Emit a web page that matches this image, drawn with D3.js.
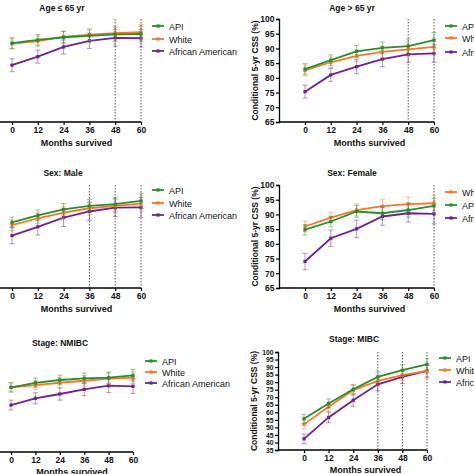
<!DOCTYPE html>
<html><head><meta charset="utf-8">
<script src="https://cdn.jsdelivr.net/npm/d3@7"></script>
<style>body{margin:0;background:#fff}text{font-family:"Liberation Sans",Arial,sans-serif;font-weight:bold}</style>
</head><body><svg id="c" width="474" height="474"></svg>
<script>
const months = [0, 12, 24, 36, 48, 60];
const seriesNames = ["API", "White", "African American"];
const colors = {"API": "#2f8a2f", "White": "#f07a2a", "African American": "#6b2391"};

const titles = ["Age \u2264 65 yr", "Age > 65 yr", "Sex: Male", "Sex: Female", "Stage: NMIBC", "Stage: MIBC"];

const ageLe65 = {API: [91.8, 92.9, 93.8, 94.3, 94.8, 94.9], White: [91.6, 92.5, 93.9, 94.7, 95.2, 95.5], "African American": [84.3, 87.2, 90.5, 92.6, 93.6, 93.5]};
const ageGt65 = {API: [83.0, 86.0, 89.0, 90.2, 90.8, 92.8], White: [82.5, 85.3, 87.5, 88.8, 89.7, 90.5], "African American": [75.3, 81.0, 83.8, 86.4, 88.0, 88.3]};
const sexMale = {API: [87.3, 89.7, 91.7, 92.9, 93.5, 94.6], White: [86.4, 88.7, 90.6, 92.1, 92.9, 93.7], "African American": [82.8, 85.8, 88.9, 91.0, 92.3, 92.4]};
const sexFemale = {API: [84.8, 87.6, 91.0, 90.4, 91.5, 92.9], White: [85.9, 88.9, 91.5, 92.8, 93.5, 93.8], "African American": [74.0, 81.9, 85.1, 89.3, 90.4, 90.2]};
const stageNMIBC = {API: [77.0, 80.0, 81.8, 82.9, 83.3, 84.8], White: [77.0, 78.5, 80.0, 81.3, 82.7, 83.3], "African American": [65.5, 69.9, 72.7, 75.7, 78.1, 77.7]};
const stageMIBC = {API: [55.7, 65.9, 75.3, 83.5, 87.9, 91.8], White: [52.0, 63.7, 74.7, 80.8, 84.6, 87.4], "African American": [42.4, 56.6, 68.0, 78.6, 83.5, 87.4]};

const errAge = [1.8, 1.8, 2.0, 2.0, 2.4, 2.6];
const errAgeAA = [2.2, 2.2, 2.4, 2.6, 2.8, 3.0];
const errSex = [1.8, 1.8, 2.0, 2.2, 2.4, 2.6];
const errSexAA = [2.8, 2.8, 3.0, 3.0, 3.0, 3.4];
const errStage = [3.0, 3.0, 3.2, 3.4, 3.6, 3.8];
const errStageAA = [3.2, 3.6, 4.0, 4.2, 4.4, 4.6];

const yTicksA = [65, 70, 75, 80, 85, 90, 95, 100];
const yTicksB = [35, 40, 45, 50, 55, 60, 65, 70, 75, 80, 85, 90, 95, 100];

const panels = [
  {title: titles[0], data: ageLe65, err: errAge, errAA: errAgeAA, x0: 12, x1: 141, yT: 19, yB: 122, dom: [65,100], ticks: yTicksA, showY: false, dotted: [48,60], legX: 152, legY: [26,39,51], legTxt: seriesNames, tx: 62, ty: 7, xl: 143, fs: 8.5},
  {title: titles[1], data: ageGt65, err: errAge, errAA: errAgeAA, x0: 305, x1: 434, yT: 19, yB: 122, dom: [65,100], ticks: yTicksA, showY: true, yAxisX: 279, dotted: [48,60], legX: 445, legY: [26,38,52], legTxt: seriesNames, tx: 352, ty: 7, xl: 143, fs: 8.5},
  {title: titles[2], data: sexMale, err: errSex, errAA: errSexAA, x0: 12, x1: 141, yT: 185, yB: 288, dom: [65,100], ticks: yTicksA, showY: false, dotted: [36,48,60], legX: 152, legY: [190,203,215], legTxt: seriesNames, tx: 63, ty: 172, xl: 309, fs: 8.5},
  {title: titles[3], data: sexFemale, err: errSex, errAA: errSexAA, x0: 305, x1: 434, yT: 185, yB: 288, dom: [65,100], ticks: yTicksA, showY: true, yAxisX: 279, dotted: [60], legX: 445, legY: [192,205,218], legTxt: ["White","API","African American"], tx: 352, ty: 172, xl: 309, fs: 8.5},
  {title: titles[4], data: stageNMIBC, err: errStage, errAA: errStageAA, x0: 11, x1: 133, yT: 352, yB: 452, dom: [35,100], ticks: yTicksB, showY: false, dotted: [], legX: 145, legY: [361,372,383], legTxt: seriesNames, tx: 60, ty: 342, xl: 472, fs: 8.5},
  {title: titles[5], data: stageMIBC, err: errStage, errAA: errStageAA, x0: 304, x1: 427, yT: 352, yB: 450, dom: [35,100], ticks: yTicksB, showY: true, yAxisX: 278, dotted: [36,48,60], legX: 439, legY: [358,370,382], legTxt: seriesNames, tx: 354, ty: 338, xl: 470, fs: 6.8}
];

const svg = d3.select("#c");

panels.forEach(p => {
  const g = svg.append("g");
  const x = d3.scaleLinear().domain([0,60]).range([p.x0, p.x1]);
  const y = d3.scaleLinear().domain(p.dom).range([p.yB, p.yT]);
  const axStart = p.showY ? p.yAxisX : -30;
  g.append("line").attr("x1", axStart).attr("x2", p.x1).attr("y1", p.yB).attr("y2", p.yB).attr("stroke","#000").attr("stroke-width",1.3);
  const xa = g.append("g").attr("transform", `translate(0,${p.yB})`)
    .call(d3.axisBottom(x).tickValues(months).tickSize(3).tickPadding(2));
  xa.select(".domain").remove();
  xa.selectAll("line").attr("stroke-width",1.2);
  xa.selectAll("text").attr("font-size", 8.5).attr("font-family","Liberation Sans").attr("font-weight","bold").attr("fill","#111");
  if (p.showY) {
    const ya = g.append("g").attr("transform", `translate(${p.yAxisX},0)`)
      .call(d3.axisLeft(y).tickValues(p.ticks).tickSize(3).tickPadding(1.5));
    ya.select(".domain").attr("stroke-width",1.3);
    ya.selectAll("line").attr("stroke-width",1.2);
    ya.selectAll("text").attr("font-size", p.fs).attr("font-family","Liberation Sans").attr("font-weight","bold").attr("fill","#111");
    g.append("text").attr("transform", `translate(${p.yAxisX-21},${(p.yT+p.yB)/2}) rotate(-90)`)
      .attr("text-anchor","middle").attr("font-size",8.5).attr("fill","#111").text("Conditional 5-yr CSS (%)");
  }
  g.append("text").attr("x", p.tx).attr("y", p.ty+4).attr("text-anchor","middle").attr("font-size",8.5).attr("fill","#111").text(p.title);
  g.append("text").attr("x", (p.x0+p.x1)/2).attr("y", p.xl+3).attr("text-anchor","middle").attr("font-size",9).attr("fill","#111").text("Months survived");
  p.dotted.forEach(m => {
    g.append("line").attr("x1", x(m)).attr("x2", x(m)).attr("y1", p.yT).attr("y2", p.yB)
      .attr("stroke","#444").attr("stroke-width",0.9).attr("stroke-dasharray","1.5,1.5");
  });
  const line = d3.line().x((d,i)=>x(months[i])).y(d=>y(d));
  seriesNames.slice().reverse().forEach(s => {
    const vals = p.data[s];
    const err = s === "African American" ? p.errAA : p.err;
    const c = colors[s];
    vals.forEach((v,i) => {
      const e = err[i];
      const cx = x(months[i]);
      g.append("line").attr("x1",cx).attr("x2",cx).attr("y1",y(v-e)).attr("y2",y(v+e)).attr("stroke",c).attr("stroke-opacity",0.55).attr("stroke-width",0.9);
      [v-e, v+e].forEach(w => g.append("line").attr("x1",cx-2.5).attr("x2",cx+2.5).attr("y1",y(w)).attr("y2",y(w)).attr("stroke",c).attr("stroke-opacity",0.55).attr("stroke-width",0.9));
    });
    g.append("path").attr("d", line(vals)).attr("fill","none").attr("stroke",c).attr("stroke-width",1.8);
    g.selectAll(null).data(vals).enter().append("rect")
      .attr("x",(d,i)=>x(months[i])-1.6).attr("y",d=>y(d)-1.6).attr("width",3.2).attr("height",3.2).attr("fill",c);
  });
  p.legTxt.forEach((s,i) => {
    const c = colors[s];
    const ly = p.legY[i];
    g.append("line").attr("x1",p.legX).attr("x2",p.legX+12).attr("y1",ly).attr("y2",ly).attr("stroke",c).attr("stroke-width",1.8);
    g.append("rect").attr("x",p.legX+4.4).attr("y",ly-1.6).attr("width",3.2).attr("height",3.2).attr("fill",c);
    g.append("text").attr("x",p.legX+17).attr("y",ly+3.5).attr("font-size",9).attr("fill","#111").style("font-weight","normal").text(s);
  });
});
</script></body></html>
